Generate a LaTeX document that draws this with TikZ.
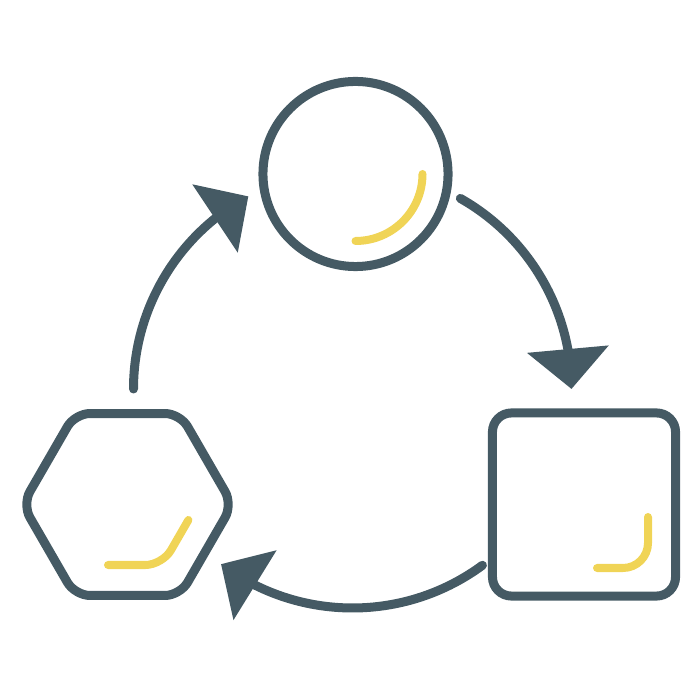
\documentclass[tikz,border=0pt]{standalone}
\usepackage{tikz}
\usetikzlibrary{arrows.meta,shapes.geometric,bending,calc}
\definecolor{slate}{HTML}{455A64}
\definecolor{mustard}{HTML}{F0D456}

\begin{document}
\begin{tikzpicture}[x=0.01cm, y=0.01cm]
\tikzset{every node/.style={draw=slate, line width=0.9mm, inner sep=0pt, outer sep=0pt}}
\tikzset{cycle arrow/.style={draw=slate, line width=0.9mm, line cap=round, -{Triangle[length=4mm, width=8mm, flex]}}}
\tikzset{accent/.style={draw=mustard, line width=0.8mm, line cap=round}}

\useasboundingbox (0,0) rectangle (700,700);

\node[circle, minimum size=1.85cm] (start) at (355.5,526) {};
\node[rectangle, rounded corners=1.9mm, minimum size=1.83cm] (check) at (584,195.5) {};
\node[regular polygon, regular polygon sides=6, rounded corners=1.5mm, minimum size=2.1cm] (build) at (127.5,195.5) {};

\coordinate (hub) at (352.5,311);
\coordinate (out1) at ($(hub)+(180:219)$);
\coordinate (out2) at ($(hub)+(60.5:219)$);
\coordinate (out3) at ($(hub)+(-53.6:219)$);

\draw[cycle arrow] (out1) arc[start angle=180, end angle=118.4, radius=219];
\draw[cycle arrow] (out2) arc[start angle=60.5, end angle=0, radius=219];
\draw[cycle arrow] (out3) arc[start angle=-53.6, end angle=-126.9, radius=219];

\draw[accent] ($(start)+(67,0)$) arc[start angle=0, end angle=-90, radius=67];
\draw[accent, rounded corners=2.5mm] ($(check)+(13,-63.5)$) -| ($(check)+(64,-12.5)$);
\draw[accent, rounded corners=1.7mm] ($(build)+(-19.5,-60.5)$) -- ($(build)+(34.9,-60.5)$) -- ($(build)+(60.9,-15.5)$);

\end{tikzpicture}
\end{document}
